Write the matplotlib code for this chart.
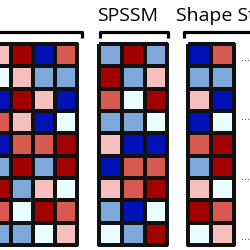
import numpy as np
import matplotlib
matplotlib.use("Agg")
import matplotlib.pyplot as plt
from matplotlib.colors import ListedColormap

# === colour codes: R dark red, r red, p pink, w near white, b light blue, B dark blue ===
palette = {"R": "#a30000", "r": "#d65a4f", "p": "#f5c0bd",
           "w": "#e9fdff", "b": "#7fa8da", "B": "#0011b5"}
codes = list(palette.keys())

# left block (partially cut by the left edge), 4 visible columns x 9 rows
left_cells = ["pRBr", "wpbb", "BRpB", "rpBw", "BrrR", "bRbR", "Rbpw", "rwRr", "bbwp"]
spssm_cells = ["bRb", "Rbp", "rwR", "bbw", "pBB", "Brr", "prR", "bBw", "wbR"]
shape_cells = ["Br", "bb", "pB", "Bw", "rR", "bR", "pw", "Rr", "wp"]

titles = ["SPSSM", "Shape Structure"]

# === layout (pixels, figure is 250 x 250) ===
row_top, row_h, n_rows = 44, 22.35, 9
blocks = [(-11.5, 22.2, left_cells), (99.3, 22.67, spssm_cells), (188.3, 23.0, shape_cells)]

cmap = ListedColormap([palette[c] for c in codes])

fig = plt.figure(figsize=(2.5, 2.5), dpi=100, facecolor="w")
ax = fig.add_axes([0, 0, 1, 1])
ax.set_xlim(0, 250)
ax.set_ylim(250, 0)
ax.axis("off")

for x0, cw, cells in blocks:
    grid = np.array([[codes.index(c) for c in row] for row in cells])
    xe = x0 + cw * np.arange(grid.shape[1] + 1)
    ye = row_top + row_h * np.arange(n_rows + 1)
    ax.pcolormesh(xe, ye, grid, cmap=cmap, vmin=-0.5, vmax=len(codes) - 0.5,
                  edgecolors="#111111", linewidth=1.5)

# === brackets ===
def bracket(xa, xb, y=31.5, drop=6):
    ax.plot([xa, xa, xb, xb], [y + drop, y, y, y + drop], color="black",
            lw=2.3, solid_joinstyle="round", solid_capstyle="butt")

bracket(-5, 81.5)
bracket(99.5, 167.5)
bracket(183.5, 262)

# === titles ===
ax.text(128, 20.7, titles[0], fontsize=14, family="Open Sans", ha="center", va="baseline")
ax.text(176.5, 20.7, titles[1], fontsize=14, family="Open Sans", ha="left", va="baseline")

# === continuation dots ===
for yd in [58, 117, 177, 237]:
    ax.text(241.5, yd, "...", fontsize=7, ha="left", va="center", color="#333333")

fig.savefig("out.png", dpi=100, facecolor="w")
